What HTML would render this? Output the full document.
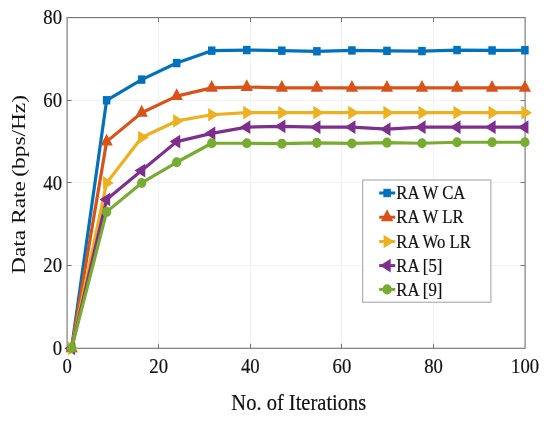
<!DOCTYPE html><html><head><meta charset="utf-8"><title>Data Rate vs Iterations</title>
<style>html,body{margin:0;padding:0;background:#fff}body{width:550px;height:422px;overflow:hidden}svg{display:block}text{font-family:"Liberation Serif","Times New Roman",serif;fill:#111;stroke:#111;stroke-width:0.2px}</style></head><body>
<svg width="550" height="422" viewBox="0 0 550 422">
<rect width="550" height="422" fill="#fff"/>
<line x1="158.5" y1="17.6" x2="158.5" y2="348.3" stroke="#f2f2f2" stroke-width="1"/>
<line x1="250.5" y1="17.6" x2="250.5" y2="348.3" stroke="#f2f2f2" stroke-width="1"/>
<line x1="341.5" y1="17.6" x2="341.5" y2="348.3" stroke="#f2f2f2" stroke-width="1"/>
<line x1="433.5" y1="17.6" x2="433.5" y2="348.3" stroke="#f2f2f2" stroke-width="1"/>
<line x1="67.1" y1="265.5" x2="525.1" y2="265.5" stroke="#f2f2f2" stroke-width="1"/>
<line x1="67.1" y1="182.5" x2="525.1" y2="182.5" stroke="#f2f2f2" stroke-width="1"/>
<line x1="67.1" y1="100.5" x2="525.1" y2="100.5" stroke="#f2f2f2" stroke-width="1"/>
<line x1="158.5" y1="348.3" x2="158.5" y2="343.7" stroke="#777" stroke-width="1"/>
<line x1="158.5" y1="17.6" x2="158.5" y2="22.200000000000003" stroke="#777" stroke-width="1"/>
<line x1="250.5" y1="348.3" x2="250.5" y2="343.7" stroke="#777" stroke-width="1"/>
<line x1="250.5" y1="17.6" x2="250.5" y2="22.200000000000003" stroke="#777" stroke-width="1"/>
<line x1="341.5" y1="348.3" x2="341.5" y2="343.7" stroke="#777" stroke-width="1"/>
<line x1="341.5" y1="17.6" x2="341.5" y2="22.200000000000003" stroke="#777" stroke-width="1"/>
<line x1="433.5" y1="348.3" x2="433.5" y2="343.7" stroke="#777" stroke-width="1"/>
<line x1="433.5" y1="17.6" x2="433.5" y2="22.200000000000003" stroke="#777" stroke-width="1"/>
<line x1="67.1" y1="265.5" x2="71.69999999999999" y2="265.5" stroke="#777" stroke-width="1"/>
<line x1="525.1" y1="265.5" x2="520.5" y2="265.5" stroke="#777" stroke-width="1"/>
<line x1="67.1" y1="182.5" x2="71.69999999999999" y2="182.5" stroke="#777" stroke-width="1"/>
<line x1="525.1" y1="182.5" x2="520.5" y2="182.5" stroke="#777" stroke-width="1"/>
<line x1="67.1" y1="100.5" x2="71.69999999999999" y2="100.5" stroke="#777" stroke-width="1"/>
<line x1="525.1" y1="100.5" x2="520.5" y2="100.5" stroke="#777" stroke-width="1"/>
<rect x="67.1" y="17.6" width="458.00" height="330.70" fill="none" stroke="#787878" stroke-width="1.15"/>
<polyline points="71.58,348.30 106.62,100.28 141.66,79.61 176.70,63.07 211.74,50.67 246.78,50.05 281.82,50.67 316.86,51.29 351.90,50.46 386.94,50.88 421.98,51.08 457.02,50.05 492.06,50.46 524.90,50.26" fill="none" stroke="#0072BD" stroke-width="3.2" stroke-linejoin="round"/>
<rect x="67.83" y="344.10" width="7.50" height="8.40" fill="#0072BD"/>
<rect x="102.87" y="96.08" width="7.50" height="8.40" fill="#0072BD"/>
<rect x="137.91" y="75.41" width="7.50" height="8.40" fill="#0072BD"/>
<rect x="172.95" y="58.87" width="7.50" height="8.40" fill="#0072BD"/>
<rect x="207.99" y="46.47" width="7.50" height="8.40" fill="#0072BD"/>
<rect x="243.03" y="45.85" width="7.50" height="8.40" fill="#0072BD"/>
<rect x="278.07" y="46.47" width="7.50" height="8.40" fill="#0072BD"/>
<rect x="313.11" y="47.09" width="7.50" height="8.40" fill="#0072BD"/>
<rect x="348.15" y="46.26" width="7.50" height="8.40" fill="#0072BD"/>
<rect x="383.19" y="46.68" width="7.50" height="8.40" fill="#0072BD"/>
<rect x="418.23" y="46.88" width="7.50" height="8.40" fill="#0072BD"/>
<rect x="453.27" y="45.85" width="7.50" height="8.40" fill="#0072BD"/>
<rect x="488.31" y="46.26" width="7.50" height="8.40" fill="#0072BD"/>
<rect x="521.15" y="46.06" width="7.50" height="8.40" fill="#0072BD"/>
<polyline points="71.58,348.30 106.62,141.61 141.66,112.68 176.70,96.14 211.74,87.87 246.78,87.05 281.82,87.87 316.86,87.87 351.90,87.87 386.94,87.87 421.98,87.87 457.02,87.87 492.06,87.87 524.90,87.87" fill="none" stroke="#D95319" stroke-width="3.2" stroke-linejoin="round"/>
<polygon points="71.58,340.40 65.42,352.25 77.74,352.25" fill="#D95319"/>
<polygon points="106.62,133.71 100.46,145.56 112.78,145.56" fill="#D95319"/>
<polygon points="141.66,104.78 135.50,116.63 147.82,116.63" fill="#D95319"/>
<polygon points="176.70,88.24 170.54,100.09 182.86,100.09" fill="#D95319"/>
<polygon points="211.74,79.97 205.58,91.82 217.90,91.82" fill="#D95319"/>
<polygon points="246.78,79.15 240.62,91.00 252.94,91.00" fill="#D95319"/>
<polygon points="281.82,79.97 275.66,91.82 287.98,91.82" fill="#D95319"/>
<polygon points="316.86,79.97 310.70,91.82 323.02,91.82" fill="#D95319"/>
<polygon points="351.90,79.97 345.74,91.82 358.06,91.82" fill="#D95319"/>
<polygon points="386.94,79.97 380.78,91.82 393.10,91.82" fill="#D95319"/>
<polygon points="421.98,79.97 415.82,91.82 428.14,91.82" fill="#D95319"/>
<polygon points="457.02,79.97 450.86,91.82 463.18,91.82" fill="#D95319"/>
<polygon points="492.06,79.97 485.90,91.82 498.22,91.82" fill="#D95319"/>
<polygon points="524.90,79.97 518.74,91.82 531.06,91.82" fill="#D95319"/>
<polyline points="71.58,348.30 106.62,182.95 141.66,137.48 176.70,120.94 211.74,114.74 246.78,112.68 281.82,112.68 316.86,112.68 351.90,112.68 386.94,112.68 421.98,112.68 457.02,112.68 492.06,112.68 524.90,112.68" fill="none" stroke="#EDB120" stroke-width="3.2" stroke-linejoin="round"/>
<polygon points="78.69,348.30 68.02,341.46 68.02,355.14" fill="#EDB120"/>
<polygon points="113.73,182.95 103.06,176.11 103.06,189.79" fill="#EDB120"/>
<polygon points="148.77,137.48 138.10,130.64 138.10,144.32" fill="#EDB120"/>
<polygon points="183.81,120.94 173.14,114.10 173.14,127.79" fill="#EDB120"/>
<polygon points="218.85,114.74 208.19,107.90 208.19,121.58" fill="#EDB120"/>
<polygon points="253.89,112.68 243.22,105.83 243.22,119.52" fill="#EDB120"/>
<polygon points="288.93,112.68 278.26,105.83 278.26,119.52" fill="#EDB120"/>
<polygon points="323.97,112.68 313.31,105.83 313.31,119.52" fill="#EDB120"/>
<polygon points="359.01,112.68 348.34,105.83 348.34,119.52" fill="#EDB120"/>
<polygon points="394.05,112.68 383.39,105.83 383.39,119.52" fill="#EDB120"/>
<polygon points="429.09,112.68 418.43,105.83 418.43,119.52" fill="#EDB120"/>
<polygon points="464.13,112.68 453.46,105.83 453.46,119.52" fill="#EDB120"/>
<polygon points="499.17,112.68 488.50,105.83 488.50,119.52" fill="#EDB120"/>
<polygon points="532.01,112.68 521.35,105.83 521.35,119.52" fill="#EDB120"/>
<polyline points="71.58,348.30 106.62,199.49 141.66,170.55 176.70,141.61 211.74,133.35 246.78,127.14 281.82,126.32 316.86,127.14 351.90,127.14 386.94,129.21 421.98,127.14 457.02,127.14 492.06,127.14 524.90,127.14" fill="none" stroke="#7E2F8E" stroke-width="3.2" stroke-linejoin="round"/>
<polygon points="64.47,348.30 75.14,341.46 75.14,355.14" fill="#7E2F8E"/>
<polygon points="99.51,199.49 110.18,192.64 110.18,206.33" fill="#7E2F8E"/>
<polygon points="134.55,170.55 145.22,163.71 145.22,177.39" fill="#7E2F8E"/>
<polygon points="169.59,141.61 180.25,134.77 180.25,148.45" fill="#7E2F8E"/>
<polygon points="204.63,133.35 215.30,126.50 215.30,140.19" fill="#7E2F8E"/>
<polygon points="239.67,127.14 250.33,120.30 250.33,133.99" fill="#7E2F8E"/>
<polygon points="274.71,126.32 285.38,119.48 285.38,133.16" fill="#7E2F8E"/>
<polygon points="309.75,127.14 320.42,120.30 320.42,133.99" fill="#7E2F8E"/>
<polygon points="344.79,127.14 355.45,120.30 355.45,133.99" fill="#7E2F8E"/>
<polygon points="379.83,129.21 390.50,122.37 390.50,136.05" fill="#7E2F8E"/>
<polygon points="414.87,127.14 425.54,120.30 425.54,133.99" fill="#7E2F8E"/>
<polygon points="449.91,127.14 460.57,120.30 460.57,133.99" fill="#7E2F8E"/>
<polygon points="484.95,127.14 495.61,120.30 495.61,133.99" fill="#7E2F8E"/>
<polygon points="517.79,127.14 528.45,120.30 528.45,133.99" fill="#7E2F8E"/>
<polyline points="71.58,348.30 106.62,211.89 141.66,182.95 176.70,162.28 211.74,143.27 246.78,143.27 281.82,143.68 316.86,142.85 351.90,143.47 386.94,142.65 421.98,143.27 457.02,142.23 492.06,142.23 524.90,142.23" fill="none" stroke="#77AC30" stroke-width="3.2" stroke-linejoin="round"/>
<ellipse cx="71.58" cy="348.30" rx="4.65" ry="5.05" fill="#77AC30"/>
<ellipse cx="106.62" cy="211.89" rx="4.65" ry="5.05" fill="#77AC30"/>
<ellipse cx="141.66" cy="182.95" rx="4.65" ry="5.05" fill="#77AC30"/>
<ellipse cx="176.70" cy="162.28" rx="4.65" ry="5.05" fill="#77AC30"/>
<ellipse cx="211.74" cy="143.27" rx="4.65" ry="5.05" fill="#77AC30"/>
<ellipse cx="246.78" cy="143.27" rx="4.65" ry="5.05" fill="#77AC30"/>
<ellipse cx="281.82" cy="143.68" rx="4.65" ry="5.05" fill="#77AC30"/>
<ellipse cx="316.86" cy="142.85" rx="4.65" ry="5.05" fill="#77AC30"/>
<ellipse cx="351.90" cy="143.47" rx="4.65" ry="5.05" fill="#77AC30"/>
<ellipse cx="386.94" cy="142.65" rx="4.65" ry="5.05" fill="#77AC30"/>
<ellipse cx="421.98" cy="143.27" rx="4.65" ry="5.05" fill="#77AC30"/>
<ellipse cx="457.02" cy="142.23" rx="4.65" ry="5.05" fill="#77AC30"/>
<ellipse cx="492.06" cy="142.23" rx="4.65" ry="5.05" fill="#77AC30"/>
<ellipse cx="524.90" cy="142.23" rx="4.65" ry="5.05" fill="#77AC30"/>
<rect x="362.7" y="180" width="128.2" height="122.2" fill="#fff" stroke="#a8a8a8" stroke-width="1.1"/>
<line x1="379.2" y1="193.0" x2="395.2" y2="193.0" stroke="#0072BD" stroke-width="3"/>
<rect x="383.35" y="188.80" width="7.50" height="8.40" fill="#0072BD"/>
<text transform="translate(396.30,199.10) scale(0.9,1)" font-size="18.6" text-anchor="start">RA W CA</text>
<line x1="379.2" y1="217.2" x2="395.2" y2="217.2" stroke="#D95319" stroke-width="3"/>
<polygon points="387.10,209.30 380.94,221.15 393.26,221.15" fill="#D95319"/>
<text transform="translate(396.30,223.30) scale(0.9,1)" font-size="18.6" text-anchor="start">RA W LR</text>
<line x1="379.2" y1="241.5" x2="395.2" y2="241.5" stroke="#EDB120" stroke-width="3"/>
<polygon points="394.21,241.50 383.55,234.66 383.55,248.34" fill="#EDB120"/>
<text transform="translate(396.30,247.60) scale(0.9,1)" font-size="18.6" text-anchor="start">RA Wo LR</text>
<line x1="379.2" y1="265.6" x2="395.2" y2="265.6" stroke="#7E2F8E" stroke-width="3"/>
<polygon points="379.99,265.60 390.66,258.76 390.66,272.44" fill="#7E2F8E"/>
<text transform="translate(396.30,271.70) scale(0.9,1)" font-size="18.6" text-anchor="start">RA [5]</text>
<line x1="379.2" y1="289.4" x2="395.2" y2="289.4" stroke="#77AC30" stroke-width="3"/>
<ellipse cx="387.10" cy="289.40" rx="4.65" ry="5.05" fill="#77AC30"/>
<text transform="translate(396.30,295.50) scale(0.9,1)" font-size="18.6" text-anchor="start">RA [9]</text>
<text transform="translate(67.10,372.80) scale(0.9,1)" font-size="20.8" text-anchor="middle">0</text>
<text transform="translate(158.70,372.80) scale(0.9,1)" font-size="20.8" text-anchor="middle">20</text>
<text transform="translate(250.30,372.80) scale(0.9,1)" font-size="20.8" text-anchor="middle">40</text>
<text transform="translate(341.90,372.80) scale(0.9,1)" font-size="20.8" text-anchor="middle">60</text>
<text transform="translate(433.50,372.80) scale(0.9,1)" font-size="20.8" text-anchor="middle">80</text>
<text transform="translate(525.10,372.80) scale(0.9,1)" font-size="20.8" text-anchor="middle">100</text>
<text transform="translate(62.00,355.10) scale(0.9,1)" font-size="20.8" text-anchor="end">0</text>
<text transform="translate(62.00,272.43) scale(0.9,1)" font-size="20.8" text-anchor="end">20</text>
<text transform="translate(62.00,189.75) scale(0.9,1)" font-size="20.8" text-anchor="end">40</text>
<text transform="translate(62.00,107.08) scale(0.9,1)" font-size="20.8" text-anchor="end">60</text>
<text transform="translate(62.00,24.40) scale(0.9,1)" font-size="20.8" text-anchor="end">80</text>
<text transform="translate(298.80,409.60) scale(0.9,1)" font-size="22.8" text-anchor="middle">No. of Iterations</text>
<text transform="translate(25.10,184.45) scale(0.85,1) rotate(-90)" font-size="23.4" text-anchor="middle" style="stroke:none">Data Rate <tspan dx="-1.5">(bps/Hz)</tspan></text>
</svg></body></html>
